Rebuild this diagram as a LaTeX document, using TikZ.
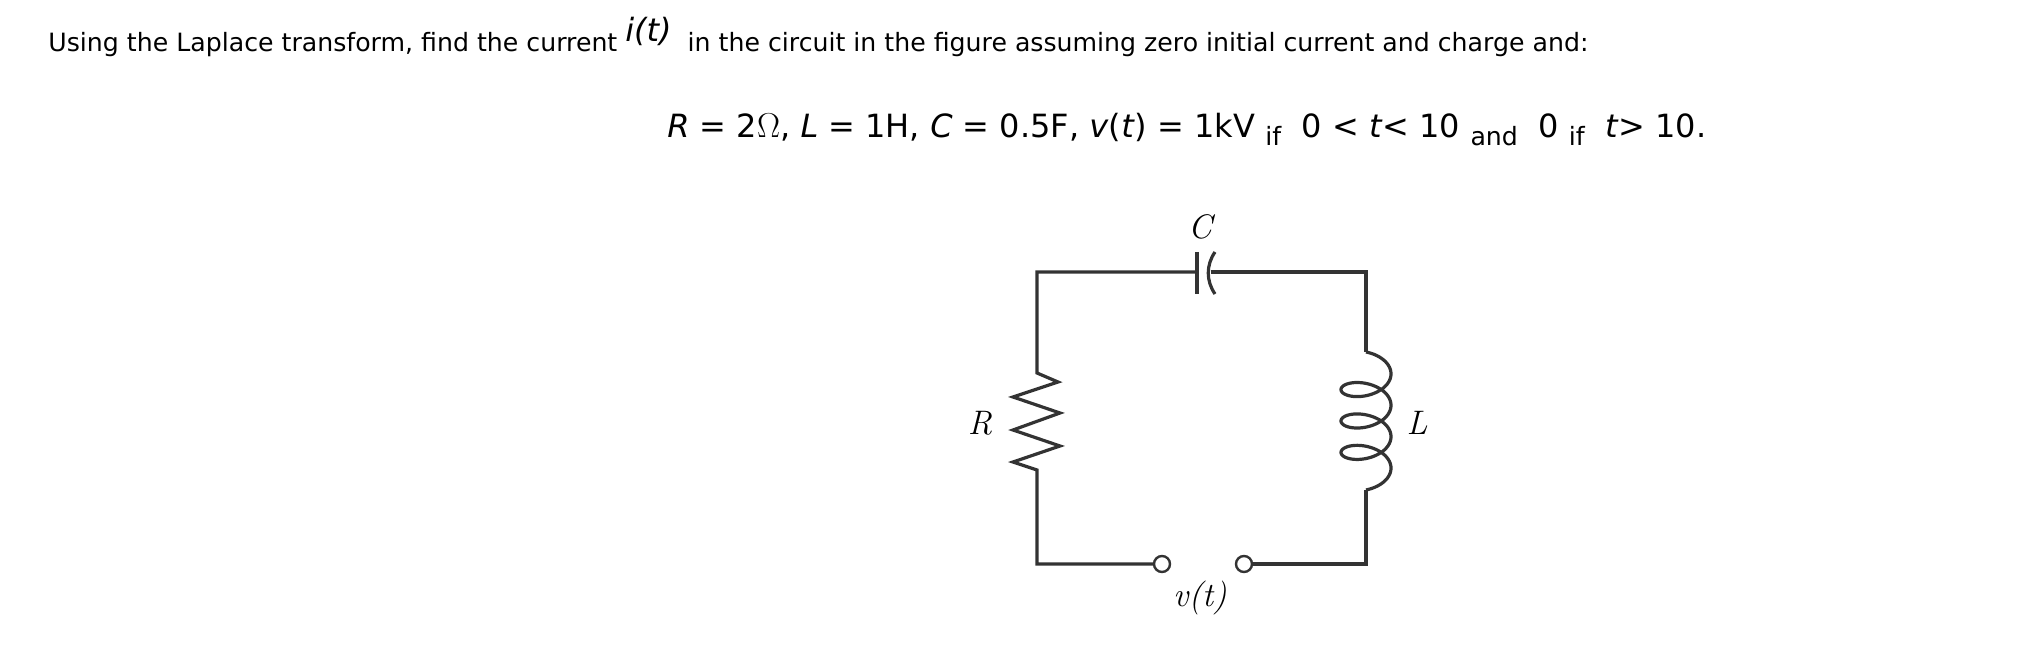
\documentclass[tikz,border=0pt]{standalone}
\usepackage{fontspec}
\setmainfont{DejaVu Sans}
\newfontfamily\serifit{Latin Modern Roman}
\begin{document}
\begin{tikzpicture}[x=0.5pt,y=-0.5pt,
  wire/.style={line width=1.6pt,black!80},
  term/.style={circle,draw=black!80,line width=1.2pt,fill=white,minimum size=8pt,inner sep=0pt},
  lab/.style={font=\serifit\fontsize{17}{20}\selectfont\itshape},
  txt/.style={anchor=base west,inner sep=0pt}]
\useasboundingbox (0,0) rectangle (2024,672);
% text
\node[txt,font=\fontsize{12.6}{15}\selectfont] (q1) at (48,52) {Using the Laplace transform, find the current \raisebox{5pt}{\fontsize{16}{18}\selectfont\itshape i(t)}\ \ in the circuit in the figure assuming zero initial current and charge and:};
\node[txt,font=\fontsize{16}{18}\selectfont] (q2) at (667,138) {\textit{R} = 2$\Omega$, \textit{L} = 1H, \textit{C} = 0.5F, \textit{v}(\textit{t}) = 1kV \raisebox{-4pt}{\fontsize{12.6}{15}\selectfont if}\ \ 0 {<} \textit{t}{<} 10 \raisebox{-4pt}{\fontsize{12.6}{15}\selectfont and}\ \ 0 \raisebox{-4pt}{\fontsize{12.6}{15}\selectfont if}\ \ \textit{t}{>} 10.};
% circuit
\coordinate (tl) at (1037,272);
\coordinate (tr) at (1366,272);
\coordinate (bl) at (1037,564);
\coordinate (br) at (1366,564);
\coordinate (ca) at (1197,272);
\coordinate (cb) at (1211,272);
\coordinate (rt) at (1037,373);
\coordinate (rb) at (1037,470);
\coordinate (lt) at (1366,352);
\coordinate (lb) at (1366,490);
\node[term] (ta) at (1162,564) {};
\node[term] (tb) at (1244,564) {};
\draw[wire] (ca) -- (tl) -- (rt) -- (1058,382) -- (1013,397) -- (1060,413) -- (1013,430) -- (1060,446) -- (1013,462) -- (rb) -- (bl) -- (ta);
\draw[wire] (tb) -- (br) -- (lb);
\draw[wire] (cb) -- (tr) -- (lt);
\draw[wire] (1197,252) -- (1197,294);
\draw[wire] (1215,252) .. controls (1206,265) and (1206,281) .. (1215,294);
\draw[wire] plot[domain=0:7*pi,samples=240,variable=\t] ({1366+25*sin(\t r)},{352+5*\t+14-14*cos(\t r)});
\node[lab] (lC) at (1200,227) {C};
\node[lab] (lR) at (980,423) {R};
\node[lab] (lL) at (1417,423) {L};
\node[lab] (lv) at (1200,598) {v(t)};
\end{tikzpicture}
\end{document}
